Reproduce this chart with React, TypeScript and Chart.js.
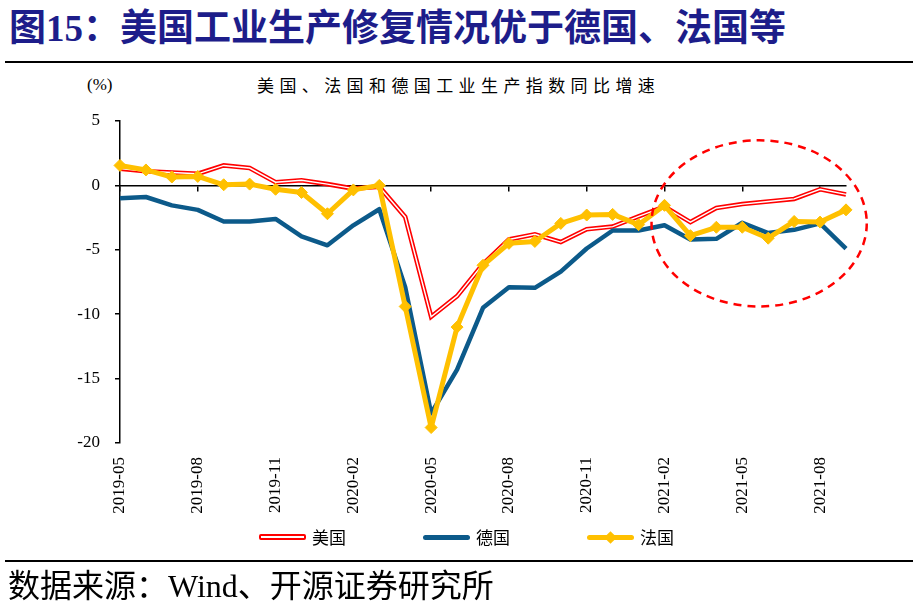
import React, { useEffect, useRef } from "react";
import { Chart, registerables } from "chart.js";

Chart.register(...registerables);

// Month labels (2019-05 .. 2021-09)
const months = [
  "2019-05", "2019-06", "2019-07", "2019-08", "2019-09", "2019-10", "2019-11", "2019-12",
  "2020-01", "2020-02", "2020-03", "2020-04", "2020-05", "2020-06", "2020-07", "2020-08",
  "2020-09", "2020-10", "2020-11", "2020-12", "2021-01", "2021-02", "2021-03", "2021-04",
  "2021-05", "2021-06", "2021-07", "2021-08", "2021-09",
];

// Industrial production, YoY %
const usIP = [
  1.3, 1.1, 1.0, 0.9, 1.55, 1.35, 0.25, 0.4, 0.1, -0.25, -0.1, -2.45, -10.2, -8.6, -6.1,
  -4.2, -3.8, -4.4, -3.4, -3.2, -2.4, -1.65, -2.85, -1.75, -1.45, -1.25, -1.05, -0.3, -0.7,
];
const deIP = [
  -1.0, -0.9, -1.55, -1.9, -2.8, -2.8, -2.6, -3.95, -4.65, -3.1, -1.85, -7.9, -17.7, -14.3,
  -9.5, -7.9, -7.95, -6.7, -4.9, -3.5, -3.5, -3.1, -4.2, -4.15, -2.9, -3.7, -3.45, -2.95, -4.9,
];
const frIP = [
  1.55, 1.2, 0.65, 0.7, 0.05, 0.1, -0.3, -0.55, -2.2, -0.35, 0, -9.4, -18.8, -11.0, -6.2,
  -4.5, -4.35, -2.95, -2.3, -2.25, -3.05, -1.55, -3.9, -3.25, -3.25, -4.1, -2.8, -2.85, -1.9,
];

// Value axis
const yMin = -20;
const yMax = 5;
const yStep = 5;
const labelEvery = 3;

// Highlighted period (in axis units: month index / percent)
const highlightX = [20.5, 28.8];
const highlightY = [3.5, -9.4];

const RED = "#ff0000";
const BLUE = "#0c5a8a";
const GOLD = "#ffc000";
const SERIF = "'Liberation Serif', 'Noto Sans CJK SC', serif";
const CJK = "'Noto Sans CJK SC', sans-serif";

const highlightPlugin = {
  id: "highlightEllipse",
  afterDatasetsDraw(chart: any) {
    const { ctx, scales } = chart;
    const x = scales.x;
    const y = scales.y;
    const x0 = x.getPixelForValue(highlightX[0]);
    const x1 = x.getPixelForValue(highlightX[1]);
    const y0 = y.getPixelForValue(highlightY[0]);
    const y1 = y.getPixelForValue(highlightY[1]);
    ctx.save();
    ctx.beginPath();
    ctx.ellipse((x0 + x1) / 2, (y0 + y1) / 2, Math.abs(x1 - x0) / 2, Math.abs(y1 - y0) / 2, 0, 0, Math.PI * 2);
    ctx.setLineDash([8, 6]);
    ctx.lineWidth = 2.5;
    ctx.strokeStyle = RED;
    ctx.stroke();
    ctx.restore();
  },
};

function IPChart() {
  const ref = useRef<HTMLCanvasElement | null>(null);

  useEffect(() => {
    if (!ref.current) return;
    const tickFont = { family: SERIF, size: 17 };
    const chart = new Chart(ref.current, {
      type: "line",
      data: {
        labels: months,
        datasets: [
          {
            label: "法国",
            data: frIP,
            borderColor: GOLD,
            backgroundColor: GOLD,
            borderWidth: 5,
            pointStyle: "rectRot",
            pointRadius: 6,
            pointBorderWidth: 1,
            pointBorderColor: GOLD,
            pointBackgroundColor: GOLD,
            borderJoinStyle: "round",
            tension: 0,
            clip: false,
            order: 0,
          },
          {
            label: "德国",
            data: deIP,
            borderColor: BLUE,
            borderWidth: 4.5,
            pointRadius: 0,
            borderJoinStyle: "round",
            tension: 0,
            order: 1,
          },
          {
            label: "美国-inner",
            data: usIP,
            borderColor: "#ffffff",
            borderWidth: 1.4,
            pointRadius: 0,
            tension: 0,
            order: 2,
          },
          {
            label: "美国",
            data: usIP,
            borderColor: RED,
            borderWidth: 4.6,
            pointRadius: 0,
            tension: 0,
            order: 3,
          },
        ],
      },
      options: {
        animation: false,
        responsive: false,
        maintainAspectRatio: false,
        events: [],
        layout: { padding: { left: 60, right: 75, top: 121, bottom: 92 } },
        plugins: {
          legend: { display: false },
          tooltip: { enabled: false },
          title: { display: false },
        },
        scales: {
          x: {
            type: "category",
            position: { y: 0 } as any,
            offset: false,
            ticks: { display: false, autoSkip: false },
            grid: {
              drawOnChartArea: false,
              drawTicks: true,
              tickLength: 5,
              lineWidth: 1.5,
              tickWidth: 1.5,
              color: (c: any) => (c.index % labelEvery === 0 ? "#000" : "rgba(0,0,0,0)"),
              tickColor: (c: any) => (c.index % labelEvery === 0 ? "#000" : "rgba(0,0,0,0)"),
            },
            border: { display: true, color: "#000", width: 1.5 },
          },
          x2: {
            type: "category",
            position: "bottom",
            offset: false,
            afterFit: (s: any) => {
              s.height = 80;
            },
            ticks: {
              autoSkip: false,
              minRotation: 90,
              maxRotation: 90,
              padding: 14,
              color: "#000",
              font: tickFont,
              callback: (_v: any, i: number) => (i % labelEvery === 0 ? months[i] : ""),
            },
            grid: { display: false, drawTicks: false },
            border: { display: false },
          },
          y: {
            type: "linear",
            min: yMin,
            max: yMax,
            afterFit: (s: any) => {
              s.width = 60;
            },
            ticks: { stepSize: yStep, padding: 15, color: "#000", font: tickFont },
            grid: {
              drawOnChartArea: false,
              drawTicks: true,
              tickLength: 5,
              color: "#000",
              lineWidth: 1.5,
            },
            border: { display: true, color: "#000", width: 1.5 },
          },
        },
      },
      plugins: [highlightPlugin],
    } as any);
    return () => chart.destroy();
  }, []);

  return (
    <canvas
      ref={ref}
      width={921}
      height={615}
      style={{ position: "absolute", left: 0, top: 0, width: 921, height: 615 }}
    />
  );
}

function LegendItem({ left, text, kind }: { left: number; text: string; kind: "us" | "de" | "fr" }) {
  let swatch: React.ReactNode;
  if (kind === "us") {
    swatch = (
      <div
        style={{
          position: "absolute",
          left: 0,
          top: -3,
          width: 43,
          height: 2,
          border: `2px solid ${RED}`,
          borderRadius: 2,
          background: "#fff",
        }}
      />
    );
  } else if (kind === "de") {
    swatch = (
      <div style={{ position: "absolute", left: 0, top: -2.5, width: 47, height: 5, borderRadius: 3, background: BLUE }} />
    );
  } else {
    swatch = (
      <>
        <div style={{ position: "absolute", left: 0, top: -2.5, width: 47, height: 5, borderRadius: 3, background: GOLD }} />
        <div
          style={{
            position: "absolute",
            left: 19,
            top: -4.5,
            width: 9,
            height: 9,
            background: GOLD,
            transform: "rotate(45deg)",
          }}
        />
      </>
    );
  }
  return (
    <div style={{ position: "absolute", left, top: 537, height: 0 }}>
      {swatch}
      <div
        style={{
          position: "absolute",
          left: 53,
          top: -10,
          fontFamily: CJK,
          fontSize: 17,
          lineHeight: "20px",
          whiteSpace: "nowrap",
          color: "#000",
        }}
      >
        {text}
      </div>
    </div>
  );
}

export default function App() {
  return (
    <div
      style={{
        position: "absolute",
        left: 0,
        top: 0,
        width: 921,
        height: 615,
        background: "#fff",
        overflow: "hidden",
      }}
    >
      <div
        style={{
          position: "absolute",
          left: 9,
          top: 10,
          fontFamily: SERIF,
          fontWeight: "bold",
          fontSize: 37,
          lineHeight: "37px",
          color: "#1d1d8a",
          whiteSpace: "nowrap",
        }}
      >
        图15：美国工业生产修复情况优于德国、法国等
      </div>
      <div style={{ position: "absolute", left: 5, top: 61, width: 908, height: 2, background: "#000" }} />

      <div
        style={{
          position: "absolute",
          left: 87,
          top: 75,
          fontFamily: SERIF,
          fontSize: 17,
          lineHeight: "20px",
          color: "#000",
        }}
      >
        (%)
      </div>
      <div
        style={{
          position: "absolute",
          left: 257,
          top: 74,
          fontFamily: CJK,
          fontSize: 17,
          lineHeight: "22px",
          letterSpacing: "5.4px",
          color: "#000",
          whiteSpace: "nowrap",
        }}
      >
        美国、法国和德国工业生产指数同比增速
      </div>

      <IPChart />

      <LegendItem left={259} text="美国" kind="us" />
      <LegendItem left={423} text="德国" kind="de" />
      <LegendItem left={587} text="法国" kind="fr" />

      <div style={{ position: "absolute", left: 5, top: 560, width: 908, height: 2, background: "#000" }} />
      <div
        style={{
          position: "absolute",
          left: 8,
          top: 570,
          fontFamily: SERIF,
          fontSize: 32,
          lineHeight: "32px",
          color: "#000",
          whiteSpace: "nowrap",
        }}
      >
        数据来源：Wind、开源证券研究所
      </div>
    </div>
  );
}
